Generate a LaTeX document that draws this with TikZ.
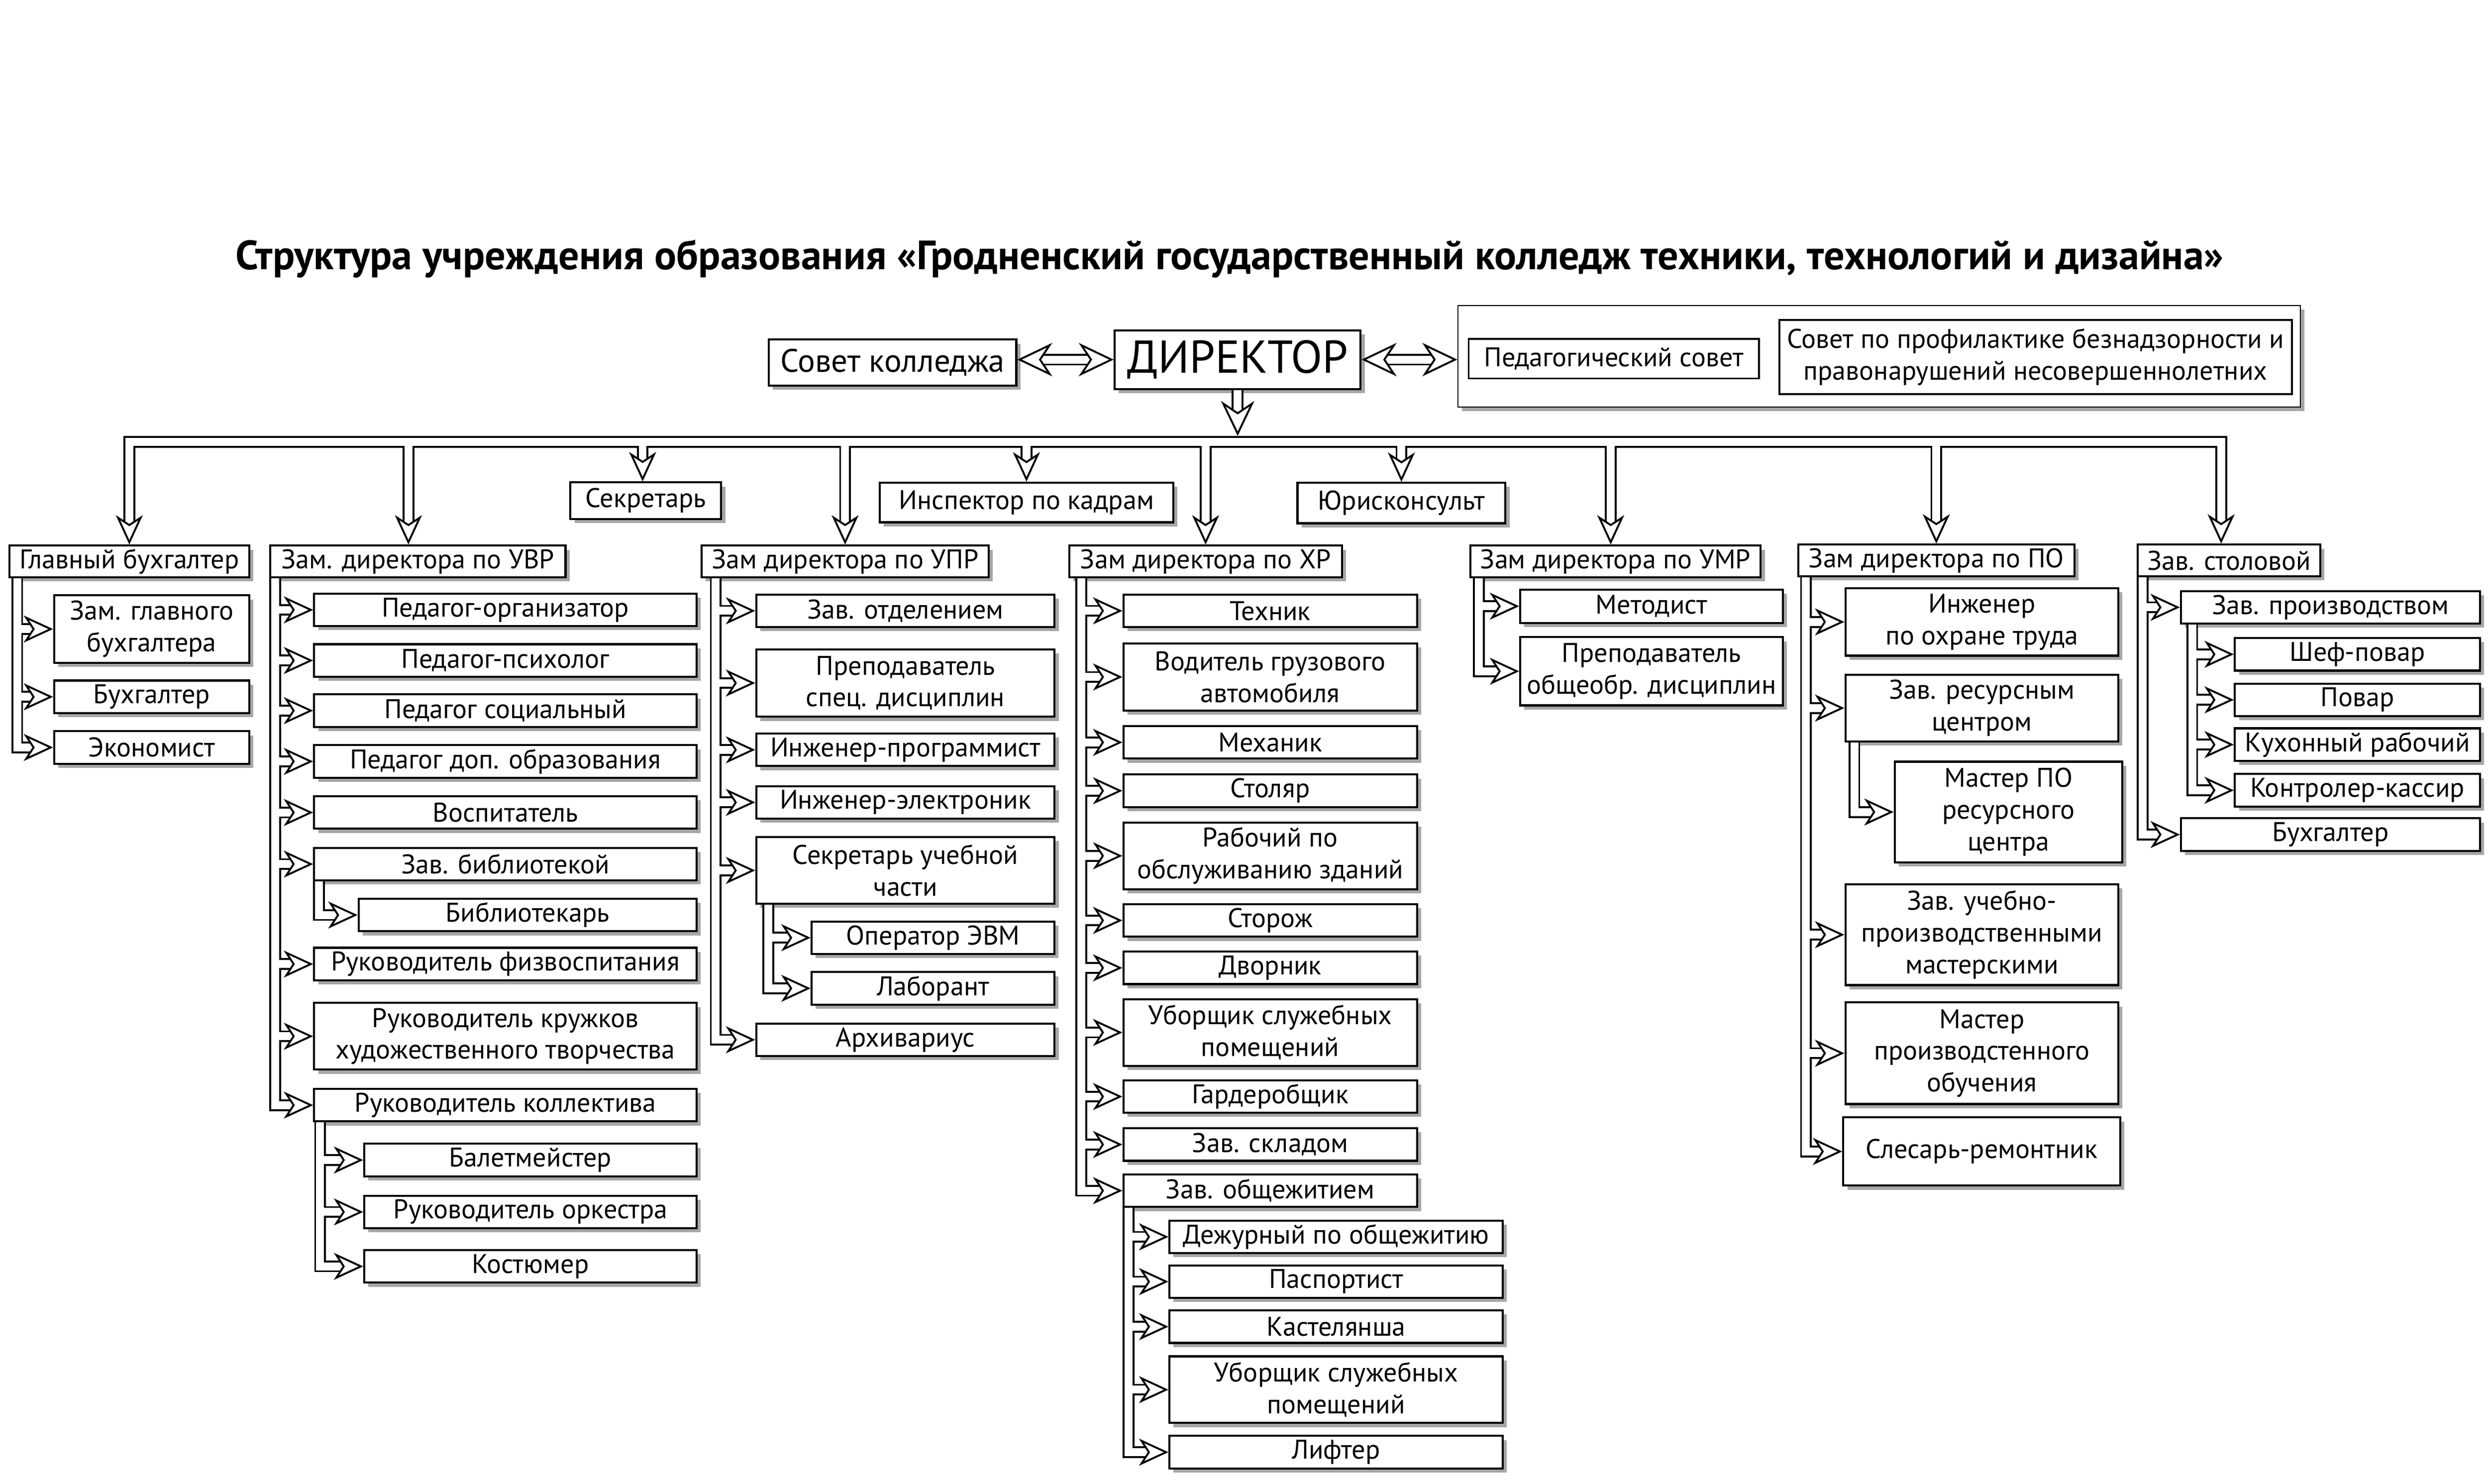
\documentclass[tikz,border=0pt]{standalone}
\usepackage{fontspec}
\setmainfont{PT Sans}
\usetikzlibrary{arrows.meta,shadows}

\tikzset{
  box/.style 2 args={draw, line width=1.3pt, fill=white, align=center,
    inner sep=1pt, minimum width=#1pt, minimum height=#2pt,
    font=\fontsize{17}{20}\selectfont,
    drop shadow={shadow xshift=2.6pt, shadow yshift=-2.6pt,
      fill=black!35, opacity=1}},
  inbox/.style 2 args={draw, line width=1.2pt, fill=white, align=center,
    inner sep=1pt, minimum width=#1pt, minimum height=#2pt,
    font=\fontsize{17}{20}\selectfont},
  wire/.style={line width=7.4pt, line join=miter},
  wirein/.style={line width=5pt, white, line join=miter},
  openhead/.style={-{Stealth[color=black, fill=white, line width=1.2pt,
      length=18.5pt, width=17pt, inset=5.5pt]}},
  bighead/.style={-{Stealth[color=black, fill=white, line width=1.2pt,
      length=22pt, width=21pt, inset=7pt]}},
  twohead/.style={{Stealth[color=black, fill=white, line width=1.2pt,
      length=22pt, width=21pt, inset=7pt]}-{Stealth[color=black,
      fill=white, line width=1.2pt, length=22pt, width=21pt, inset=7pt]}},
}

\begin{document}
\begin{tikzpicture}[x=1pt, y=-1pt]
  \useasboundingbox (0,0) rectangle (1568,935);

  \node[font=\bfseries\fontsize{25.8}{30}\selectfont] (title) at (775,163)
    {Структура учреждения образования «Гродненский государственный колледж техники, технологий и дизайна»};

  % top row
  \node[box={156}{29}, font=\fontsize{20.4}{24}\selectfont] (sovet) at (562.5,228.5) {Совет колледжа};
  \node[box={155}{37}, font=\fontsize{29}{34}\selectfont] (dir) at (780,226.6) {ДИРЕКТОР};
  \node[box={531}{64}, line width=0.6pt] (council) at (1184.2,224.5) {};
  \node[inbox={183}{25}] (pedsov) at (1017.1,226) {Педагогический совет};
  \node[inbox={323}{46.5}] (profsov) at (1282.8,225)
    {Совет по профилактике безнадзорности и\\правонарушений несовершеннолетних};

  % first level
  \node[box={151}{20}] (gb) at (81.5,353.8) {Главный бухгалтер};
  \node[box={186}{20}] (uvr) at (263.4,353.8) {Зам. директора по УВР};
  \node[box={95}{23}] (sec) at (407,315.5) {Секретарь};
  \node[box={181}{20}] (upr) at (532.6,353.8) {Зам директора по УПР};
  \node[box={185}{25}] (insp) at (646.9,316.6) {Инспектор по кадрам};
  \node[box={172}{20}] (hr) at (759.8,353.8) {Зам директора по ХР};
  \node[box={131}{25.5}] (jur) at (883.2,317) {Юрисконсульт};
  \node[box={183}{20}] (umr) at (1018.1,353.8) {Зам директора по УМР};
  \node[box={174}{20}] (po) at (1220.3,353.2) {Зам директора по ПО};
  \node[box={115}{20}] (stol) at (1404.8,353.2) {Зав. столовой};

  % Главный бухгалтер
  \node[box={123}{42.5}] (gb1) at (95.6,396.4) {Зам. главного\\бухгалтера};
  \node[box={123}{20.5}] (gb2) at (95.6,439.1) {Бухгалтер};
  \node[box={123}{20.5}] (gb3) at (95.6,471) {Экономист};

  % УВР
  \node[box={241}{20.5}] (uvr1) at (318.5,384.3) {Педагог-организатор};
  \node[box={241}{20.5}] (uvr2) at (318.5,416.2) {Педагог-психолог};
  \node[box={241}{20.5}] (uvr3) at (318.5,447.8) {Педагог социальный};
  \node[box={241}{20.5}] (uvr4) at (318.5,479.8) {Педагог доп. образования};
  \node[box={241}{20.5}] (uvr5) at (318.5,512) {Воспитатель};
  \node[box={241}{20.5}] (uvr6) at (318.5,544.5) {Зав. библиотекой};
  \node[box={213}{20.5}] (uvr6a) at (332.5,576.6) {Библиотекарь};
  \node[box={241}{20.5}] (uvr7) at (318.5,607.5) {Руководитель физвоспитания};
  \node[box={241}{42}] (uvr8) at (318.5,653) {Руководитель кружков\\художественного творчества};
  \node[box={241}{20.5}] (uvr9) at (318.5,696.4) {Руководитель коллектива};
  \node[box={209.5}{20.5}] (uvr9a) at (334.3,731) {Балетмейстер};
  \node[box={209.5}{20.5}] (uvr9b) at (334.3,763.7) {Руководитель оркестра};
  \node[box={209.5}{20.5}] (uvr9c) at (334.3,798) {Костюмер};

  % УПР
  \node[box={188}{20.5}] (upr1) at (570.6,384.9) {Зав. отделением};
  \node[box={188}{42.5}] (upr2) at (570.6,430.4) {Преподаватель\\спец. дисциплин};
  \node[box={188}{20.5}] (upr3) at (570.6,472.5) {Инженер-программист};
  \node[box={188}{20.5}] (upr4) at (570.6,505.6) {Инженер-электроник};
  \node[box={188}{42}] (upr5) at (570.6,548.5) {Секретарь учебной\\части};
  \node[box={153}{20.5}] (upr5a) at (588,590.9) {Оператор ЭВМ};
  \node[box={153}{20.5}] (upr5b) at (588,622.8) {Лаборант};
  \node[box={188}{20.5}] (upr6) at (570.6,655.2) {Архивариус};

  % ХР
  \node[box={185}{20.5}] (hr1) at (800.5,384.9) {Техник};
  \node[box={185}{42.5}] (hr2) at (800.5,426.6) {Водитель грузового\\автомобиля};
  \node[box={185}{20.5}] (hr3) at (800.5,467.8) {Механик};
  \node[box={185}{20.5}] (hr4) at (800.5,498.3) {Столяр};
  \node[box={185}{42}] (hr5) at (800.5,539.3) {Рабочий по\\обслуживанию зданий};
  \node[box={185}{20.5}] (hr6) at (800.5,580) {Сторож};
  \node[box={185}{20.5}] (hr7) at (800.5,609.9) {Дворник};
  \node[box={185}{42}] (hr8) at (800.5,650.6) {Уборщик служебных\\помещений};
  \node[box={185}{20.5}] (hr9) at (800.5,691) {Гардеробщик};
  \node[box={185}{20.5}] (hr10) at (800.5,721.2) {Зав. складом};
  \node[box={185}{20.5}] (hr11) at (800.5,750.3) {Зав. общежитием};
  \node[box={210}{20.5}] (hr11a) at (842,779.4) {Дежурный по общежитию};
  \node[box={210}{20.5}] (hr11b) at (842,807.6) {Паспортист};
  \node[box={210}{20.5}] (hr11c) at (842,836) {Кастелянша};
  \node[box={210}{42}] (hr11d) at (842,875.7) {Уборщик служебных\\помещений};
  \node[box={210}{20.5}] (hr11e) at (842,915.1) {Лифтер};

  % УМР
  \node[box={165.5}{21}] (umr1) at (1040.8,382) {Методист};
  \node[box={165.5}{43}] (umr2) at (1040.8,423) {Преподаватель\\общеобр. дисциплин};

  % ПО
  \node[box={172}{42.5}] (po1) at (1249,391.9) {Инженер\\по охране труда};
  \node[box={172}{42}] (po2) at (1249,446.2) {Зав. ресурсным\\центром};
  \node[box={143.5}{63.5}] (po2a) at (1265.8,511.7) {Мастер ПО\\ресурсного\\центра};
  \node[box={172}{63.5}] (po3) at (1249,589) {Зав. учебно-\\производственными\\мастерскими};
  \node[box={172}{64}] (po4) at (1249,663.7) {Мастер\\производстенного\\обучения};
  \node[box={174.5}{43}] (po5) at (1248.9,725.6) {Слесарь-ремонтник};

  % столовая
  \node[box={188.5}{20.5}] (st1) at (1468.7,382.7) {Зав. производством};
  \node[box={154.5}{20.5}] (st1a) at (1485.7,412.3) {Шеф-повар};
  \node[box={154.5}{20.5}] (st1b) at (1485.7,441) {Повар};
  \node[box={154.5}{20.5}] (st1c) at (1485.7,469.2) {Кухонный рабочий};
  \node[box={154.5}{20.5}] (st1d) at (1485.7,498) {Контролер-кассир};
  \node[box={188.5}{20.5}] (st2) at (1468.7,525.9) {Бухгалтер};

  % trunks and bus
  \coordinate (bus) at (780,278.4);
  \coordinate (bustop) at (780,274.7);
  \coordinate (gbT) at ([xshift=5.5pt]gb.south west);
  \coordinate (uvrT) at ([xshift=3.7pt]uvr.south west);
  \coordinate (bibT) at ([xshift=3.7pt]uvr6.south west);
  \coordinate (kolT) at ([xshift=4.4pt]uvr9.south west);
  \coordinate (uprT) at ([xshift=9.6pt]upr.south west);
  \coordinate (sekT) at ([xshift=8.3pt]upr5.south west);
  \coordinate (hrT) at ([xshift=8.2pt]hr.south west);
  \coordinate (obT) at ([xshift=3.9pt]hr11.south west);
  \coordinate (umrT) at ([xshift=6.1pt]umr.south west);
  \coordinate (poT) at ([xshift=5.5pt]po.south west);
  \coordinate (rcT) at ([xshift=6.3pt]po2.south west);
  \coordinate (stT) at ([xshift=3.7pt]stol.south west);
  \coordinate (prT) at ([xshift=7.8pt]st1.south west);

  \def\drops{gb/0, uvr/-6, sec/-2, upr/0, insp/0, hr/0, jur/0, umr/-3, po/0, stol/-5}
  \def\links{gbT/gb1, gbT/gb2, gbT/gb3,
    uvrT/uvr1, uvrT/uvr2, uvrT/uvr3, uvrT/uvr4, uvrT/uvr5, uvrT/uvr6,
    uvrT/uvr7, uvrT/uvr8, uvrT/uvr9, bibT/uvr6a,
    kolT/uvr9a, kolT/uvr9b, kolT/uvr9c,
    uprT/upr1, uprT/upr2, uprT/upr3, uprT/upr4, uprT/upr5, uprT/upr6,
    sekT/upr5a, sekT/upr5b,
    hrT/hr1, hrT/hr2, hrT/hr3, hrT/hr4, hrT/hr5, hrT/hr6, hrT/hr7,
    hrT/hr8, hrT/hr9, hrT/hr10, hrT/hr11,
    obT/hr11a, obT/hr11b, obT/hr11c, obT/hr11d, obT/hr11e,
    umrT/umr1, umrT/umr2,
    poT/po1, poT/po2, poT/po3, poT/po4, poT/po5, rcT/po2a,
    stT/st1, stT/st2, prT/st1a, prT/st1b, prT/st1c, prT/st1d}

  % black outlines first
  \foreach \b/\s in \drops
    \draw[wire, shorten >=10pt] (bus) -| ([xshift=\s pt]\b.north);
  \foreach \t/\c in \links
    \draw[wire, shorten >=10pt] (\t) |- (\c.west);
  \draw[wire, shorten <=10pt, shorten >=10pt] (dir.west -| sovet.east) -- (dir.west);
  \draw[wire, shorten <=10pt, shorten >=10pt] (dir.east) -- (dir.east -| council.west);
  \draw[wire, shorten >=10pt] (dir.south) -- (bustop);

  % then the white inside and the heads
  \foreach \b/\s in \drops
    \draw[wirein, openhead] (bus) -| ([xshift=\s pt]\b.north);
  \foreach \t/\c in \links
    \draw[wirein, openhead] (\t) |- (\c.west);
  \draw[wirein, twohead] (dir.west -| sovet.east) -- (dir.west);
  \draw[wirein, twohead] (dir.east) -- (dir.east -| council.west);
  \draw[wirein, bighead] (dir.south) -- (bustop);
\end{tikzpicture}
\end{document}
